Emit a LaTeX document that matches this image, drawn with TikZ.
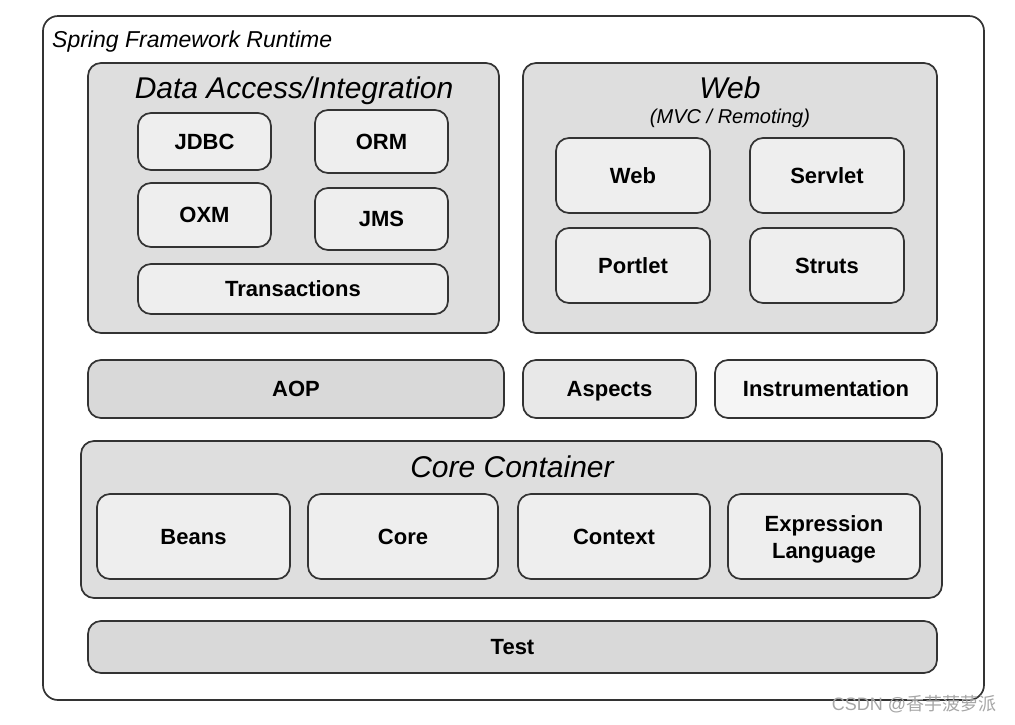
\documentclass[tikz,border=0pt]{standalone}
\usepackage{fontspec}
\setmainfont{Liberation Sans}
\newfontfamily\cjkfont{Noto Sans CJK SC}
\definecolor{edge}{HTML}{333333}
\definecolor{contfill}{HTML}{DEDEDE}
\definecolor{innerfill}{HTML}{EEEEEE}
\definecolor{barfill}{HTML}{D9D9D9}
\definecolor{aspfill}{HTML}{E8E8E8}
\definecolor{instfill}{HTML}{F5F5F5}
\tikzset{
  frame/.style={draw=edge, line width=1.7pt, rounded corners=15pt, inner sep=0pt},
  container/.style={draw=edge, line width=1.7pt, fill=contfill, rounded corners=13pt, inner sep=0pt},
  modbase/.style={draw=edge, line width=1.7pt, fill=innerfill, rounded corners=13pt, inner sep=0pt,
     font=\fontsize{22}{27}\selectfont\bfseries, align=center},
  modbox/.style={modbase, text height=15.8pt, text depth=0pt},
  title/.style={font=\fontsize{30}{34}\selectfont\itshape, inner sep=0pt, anchor=base},
}
\begin{document}
\begin{tikzpicture}[x=1pt,y=-1pt]
\fill[white] (0,0) rectangle (1015,724);
\useasboundingbox (0,0) rectangle (1015,724);

\node[frame, minimum width=941pt, minimum height=684pt] (outer) at (513.5,358) {};
\node[anchor=base west, inner sep=0pt, font=\fontsize{23}{27}\selectfont\itshape] (outertitle) at (52,47) {Spring Framework Runtime};

% Data Access / Integration
\node[container, minimum width=411pt, minimum height=270pt] (da) at (293.5,198) {};
\node[title] (datitle) at (294,98) {Data Access/Integration};
\node[modbox, minimum width=133pt, minimum height=57pt] (jdbc) at (204.5,141.5) {JDBC};
\node[modbox, minimum width=133pt, minimum height=63pt] (orm) at (381.5,141.5) {ORM};
\node[modbox, minimum width=133pt, minimum height=64pt] (oxm) at (204.5,215) {OXM};
\node[modbox, minimum width=133pt, minimum height=62pt] (jms) at (381.5,219) {JMS};
\node[modbox, minimum width=310pt, minimum height=50pt] (tx) at (293,289) {Transactions};

% Web
\node[container, minimum width=414pt, minimum height=270pt] (web) at (730,198) {};
\node[title] (webtitle) at (730,98) {Web};
\node[inner sep=0pt, anchor=base, font=\fontsize{20}{24}\selectfont\itshape] (websub) at (730,123) {(MVC / Remoting)};
\node[modbox, minimum width=154pt, minimum height=75pt] (webm) at (633,175.5) {Web};
\node[modbox, minimum width=154pt, minimum height=75pt] (servlet) at (827,175.5) {Servlet};
\node[modbox, minimum width=154pt, minimum height=75pt] (portlet) at (633,265.5) {Portlet};
\node[modbox, minimum width=154pt, minimum height=75pt] (struts) at (827,265.5) {Struts};

% middle row
\node[modbox, fill=barfill, minimum width=416pt, minimum height=58pt] (aop) at (296,389) {AOP};
\node[modbox, fill=aspfill, minimum width=173pt, minimum height=58pt] (aspects) at (609.5,389) {Aspects};
\node[modbox, fill=instfill, minimum width=222pt, minimum height=58pt] (instr) at (826,389) {Instrumentation};

% Core container
\node[container, minimum width=861pt, minimum height=157pt] (cc) at (511.5,519.5) {};
\node[title] (cctitle) at (512,477) {Core Container};
\node[modbox, minimum width=193pt, minimum height=85pt] (beans) at (193.5,536.5) {Beans};
\node[modbox, minimum width=190pt, minimum height=85pt] (core) at (403,536.5) {Core};
\node[modbox, minimum width=192pt, minimum height=85pt] (context) at (614,536.5) {Context};
\node[modbase, minimum width=192pt, minimum height=85pt] (expr) at (824,536.5) {\rule{0pt}{22pt}Expression\\Language};

% Test
\node[modbox, fill=barfill, minimum width=849pt, minimum height=52pt] (test) at (512.5,647) {Test};

% watermark
\node[inner sep=0pt, text=black!35, font=\fontsize{18}{20}\selectfont] (wm) at (914,704) {CSDN @{\cjkfont 香芋菠萝派}};
\end{tikzpicture}
\end{document}
